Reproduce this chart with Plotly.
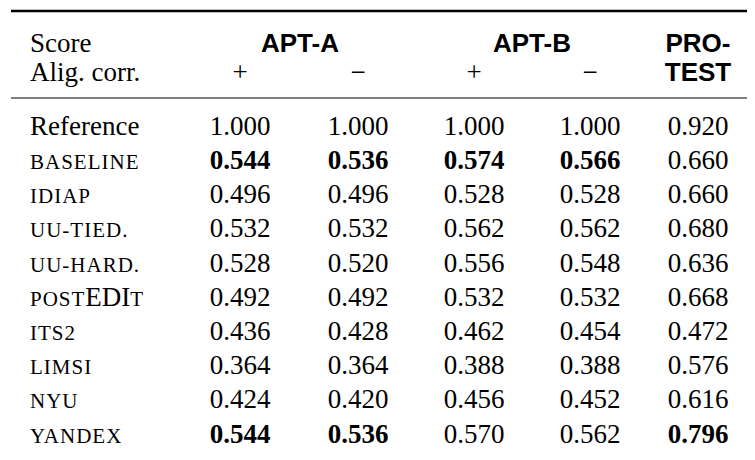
import plotly.graph_objects as go

systems = ["Reference", "BASELINE", "IDIAP", "UU-TIED.", "UU-HARD.", "POSTEDIT", "ITS2", "LIMSI", "NYU", "YANDEX"]
apt_a_plus = [1.000, 0.544, 0.496, 0.532, 0.528, 0.492, 0.436, 0.364, 0.424, 0.544]
apt_a_minus = [1.000, 0.536, 0.496, 0.532, 0.520, 0.492, 0.428, 0.364, 0.420, 0.536]
apt_b_plus = [1.000, 0.574, 0.528, 0.562, 0.556, 0.532, 0.462, 0.388, 0.456, 0.570]
apt_b_minus = [1.000, 0.566, 0.528, 0.562, 0.548, 0.532, 0.454, 0.388, 0.452, 0.562]
protest = [0.920, 0.660, 0.660, 0.680, 0.636, 0.668, 0.472, 0.576, 0.616, 0.796]
bold = {  # (column index, row index)
    (0, 1), (1, 1), (2, 1), (3, 1), (0, 9), (1, 9), (4, 9)
}

SERIF = "Liberation Serif"
SANS = "Liberation Sans"
FS = 27
W, H = 755, 460
col_x = [232, 350, 466, 582, 690]
row_y0, row_dy = 120, 34.2
row_ys = [row_y0 + i * row_dy for i in range(len(systems))]

def smallcaps(name):
    sc = "<span style='font-size:21px;letter-spacing:1px'>%s</span>"
    if name == "Reference":
        return name
    if name == "POSTEDIT":
        return sc % "POST" + "EDI" + sc % "T"
    return sc % name

fig = go.Figure()
fig.add_trace(go.Scatter(
    x=[22] * len(systems), y=row_ys, mode="text",
    text=[smallcaps(s) for s in systems], textposition="middle right",
    textfont=dict(family=SERIF, size=FS, color="black"), hoverinfo="skip"))

cols = [apt_a_plus, apt_a_minus, apt_b_plus, apt_b_minus, protest]
for ci, vals in enumerate(cols):
    txt = [("<b>%.3f</b>" if (ci, ri) in bold else "%.3f") % v for ri, v in enumerate(vals)]
    fig.add_trace(go.Scatter(
        x=[col_x[ci]] * len(vals), y=row_ys, mode="text", text=txt,
        textposition="middle center",
        textfont=dict(family=SERIF, size=FS, color="black"), hoverinfo="skip"))

# headers
fig.add_trace(go.Scatter(x=[22, 22], y=[37, 66], mode="text",
    text=["Score", "Alig. corr."], textposition="middle right",
    textfont=dict(family=SERIF, size=FS, color="black"), hoverinfo="skip"))
fig.add_trace(go.Scatter(x=[292, 524, 690, 690], y=[37, 37, 37, 66], mode="text",
    text=["<b>APT-A</b>", "<b>APT-B</b>", "<b>PRO-</b>", "<b>TEST</b>"],
    textposition="middle center",
    textfont=dict(family=SANS, size=26, color="black"), hoverinfo="skip"))
fig.add_trace(go.Scatter(x=col_x[:4], y=[66] * 4, mode="text",
    text=["+", "\u2212", "+", "\u2212"], textposition="middle center",
    textfont=dict(family=SERIF, size=FS, color="black"), hoverinfo="skip"))

for y, wdt in [(3, 2.5), (90, 1.2), (455, 2.5)]:
    fig.add_shape(type="line", x0=3, x1=W - 3, y0=y, y1=y, xref="x", yref="y",
                  line=dict(color="black", width=wdt))

fig.update_layout(width=W, height=H, margin=dict(l=0, r=0, t=0, b=0),
                  plot_bgcolor="white", paper_bgcolor="white", showlegend=False,
                  xaxis=dict(range=[0, W], visible=False, fixedrange=True),
                  yaxis=dict(range=[H, 0], visible=False, fixedrange=True))
fig.write_html("out.html")
